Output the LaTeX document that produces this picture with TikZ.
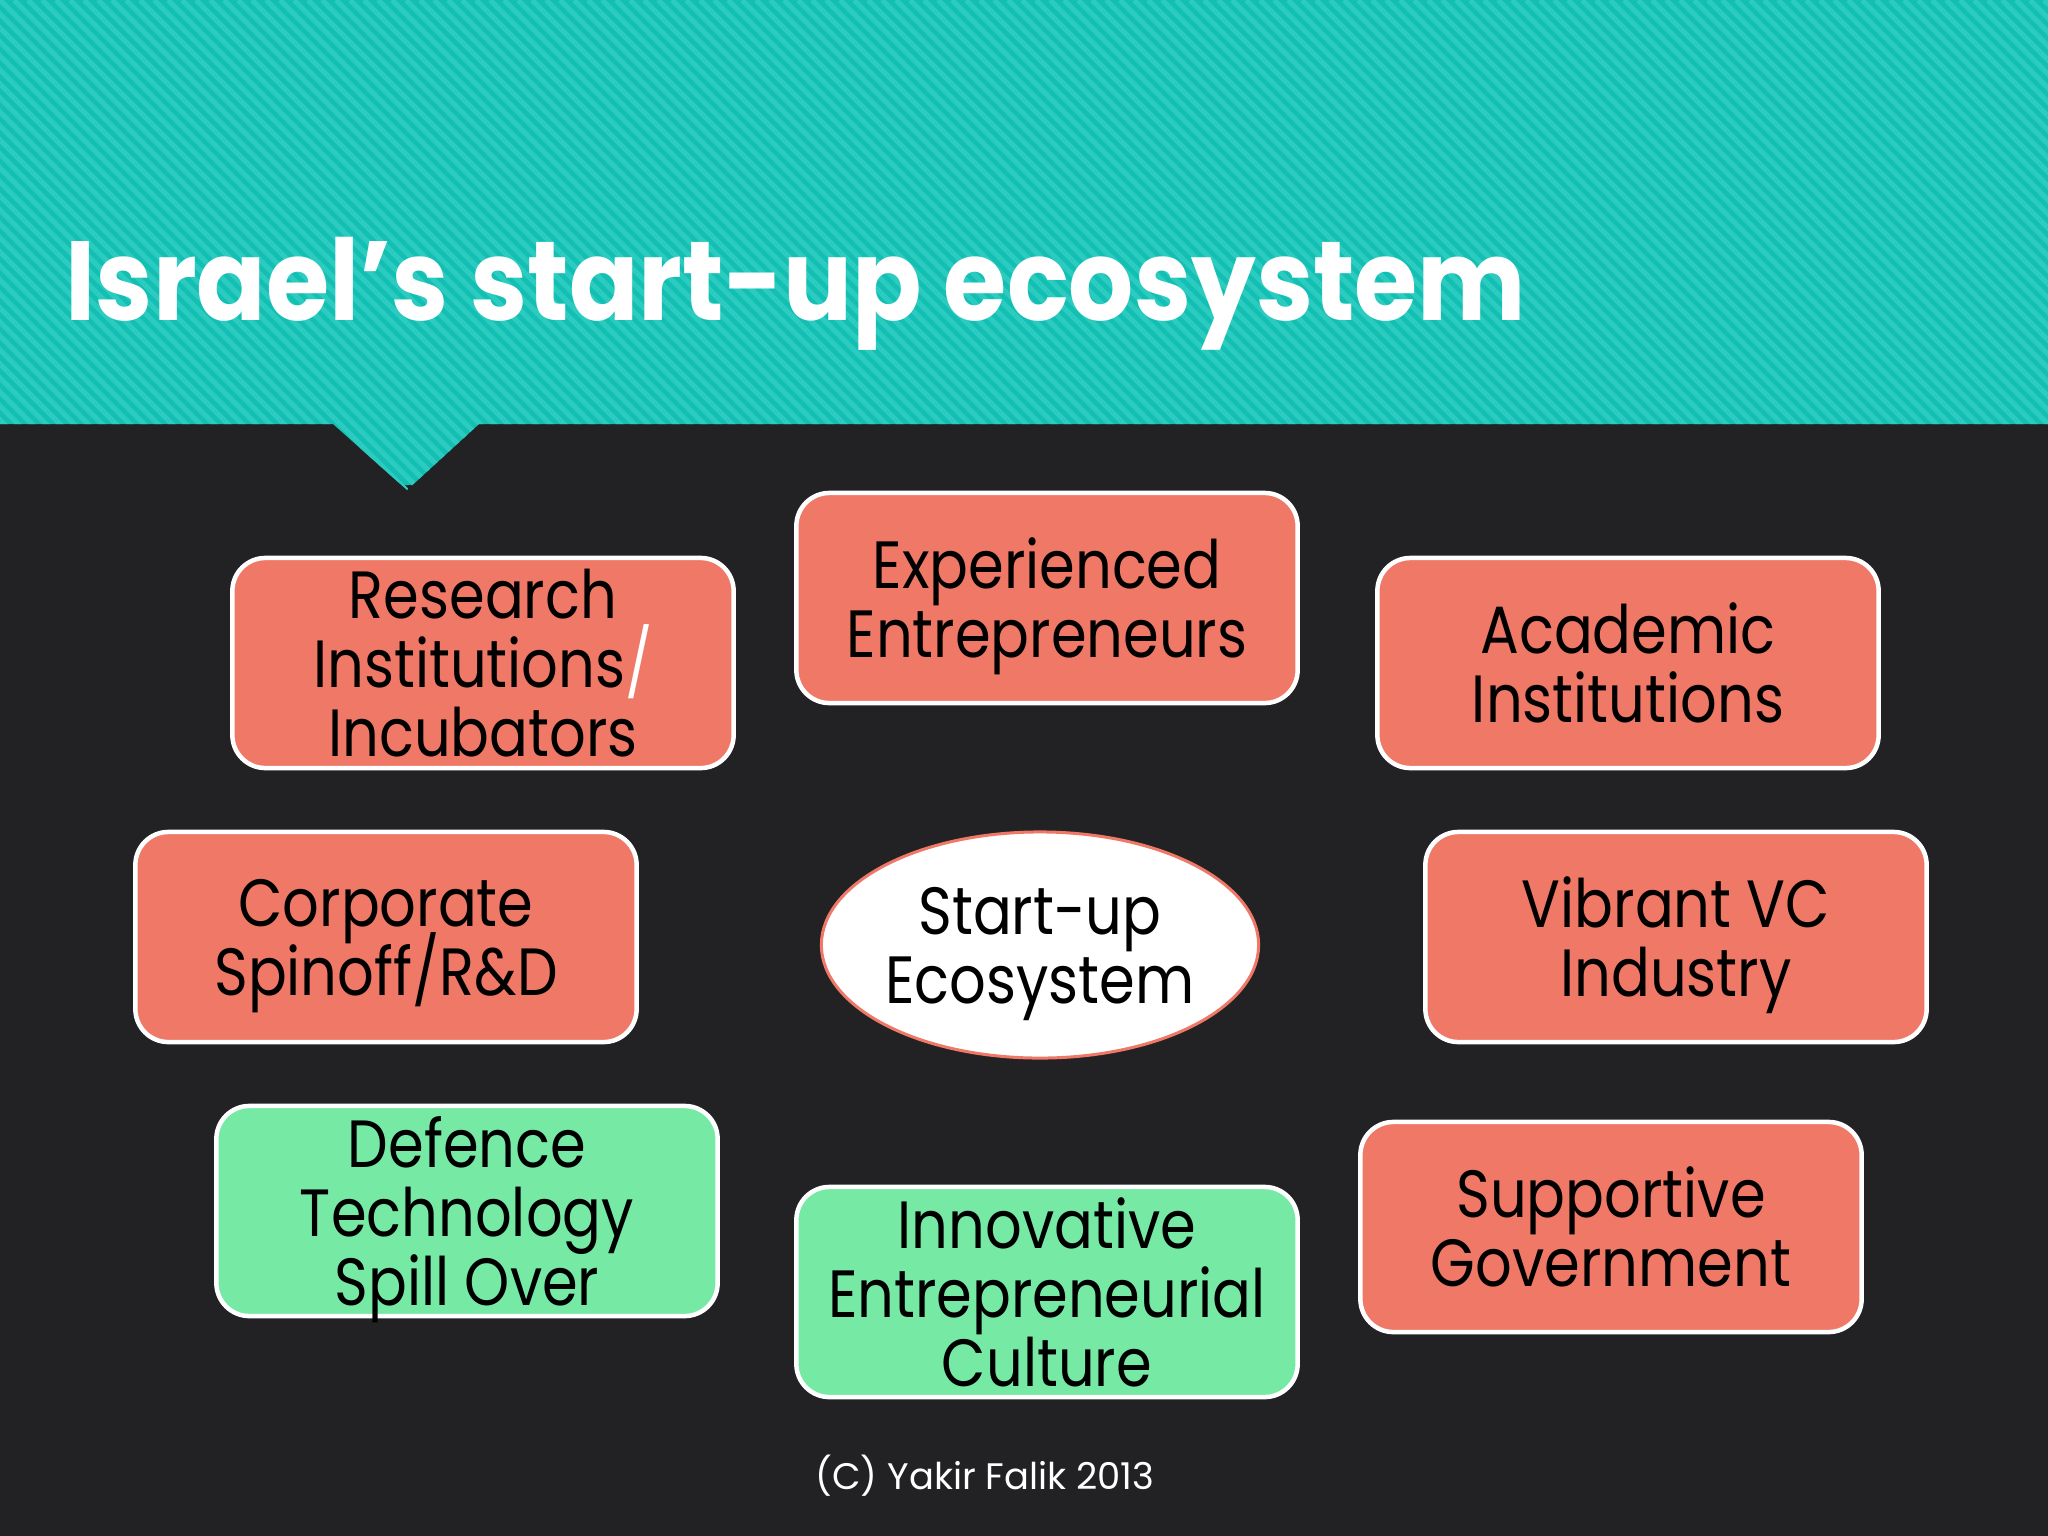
\documentclass[tikz,border=0pt]{standalone}
\usepackage{fontspec}
\setmainfont{Poppins}
\newfontfamily\boxfont[FakeStretch=0.86]{Poppins}
\newfontfamily\titlefont[FakeStretch=0.91]{Poppins}
\newcommand\boxtext{\boxfont\fontsize{19}{19.6}\selectfont\setlength{\lineskiplimit}{-20pt}\relax}
\usepackage{tikz}
\usetikzlibrary{shapes,arrows}

\definecolor{slidebg}{HTML}{222225}
\definecolor{bandteal}{HTML}{13BFB3}
\definecolor{bandstripe}{HTML}{2BCBC0}
\definecolor{salmon}{HTML}{EF7866}
\definecolor{mint}{HTML}{76E9A5}

\begin{document}
\begin{tikzpicture}[x=0.01cm,y=-0.01cm,
  box/.style={rectangle,rounded corners=0.33cm,draw=white,line width=0.045cm,fill=salmon,
    minimum width=5.01cm,minimum height=2.1cm,inner sep=0pt,text depth=0pt,align=center,text=black,
    font=\boxtext},
  greenbox/.style={box,fill=mint}]
\useasboundingbox (0,0) rectangle (2048,1536);
\fill[slidebg] (0,0) rectangle (2048,1536);
% title band with the notch
\fill[bandteal] (0,0) -- (2048,0) -- (2048,424) -- (479,424)
  [rounded corners=0.12cm] -- (407,490) [sharp corners] -- (333,424) -- (0,424) -- cycle;
\begin{scope}
\clip (0,0) -- (2048,0) -- (2048,424) -- (479,424) -- (407,490) -- (333,424) -- (0,424) -- cycle;
\foreach \i in {-560,-546,...,2060}
  \draw[bandstripe,line width=0.05cm] (\i,0) -- ++(560,560);
\end{scope}
\node[anchor=base west,text=white,inner sep=0pt,font=\titlefont\fontsize{32}{36}\selectfont\bfseries] (title) at (65,320) {Israel’s start-up ecosystem};

% the nine parts
\node[box] (research) at (483,663) {Research\\Institutions\textcolor{white}{/}\\Incubators};
\node[box] (experienced) at (1047,598) {Experienced\\Entrepreneurs};
\node[box] (academic) at (1628,663) {Academic\\Institutions};
\node[box] (corporate) at (386,937) {Corporate\\Spinoff/R\&D};
\node[ellipse,draw=salmon,line width=0.03cm,fill=white,minimum width=4.21cm,minimum height=2.26cm,
  inner sep=0pt,text depth=0pt,align=center,font=\boxtext] (eco) at (1040,945) {Start-up\\Ecosystem};
\node[box] (vibrant) at (1676,937) {Vibrant VC\\Industry};
\node[greenbox] (defence) at (467,1211) {Defence\\Technology\\Spill Over};
\node[greenbox] (innovative) at (1047,1292) {Innovative\\Entrepreneurial\\Culture};
\node[box] (supportive) at (1611,1227) {Supportive\\Government};

\node[anchor=base,text=white,font=\fontsize{10.5}{12}\selectfont] (credit) at (985,1489) {(C) Yakir Falik 2013};
\end{tikzpicture}
\end{document}
